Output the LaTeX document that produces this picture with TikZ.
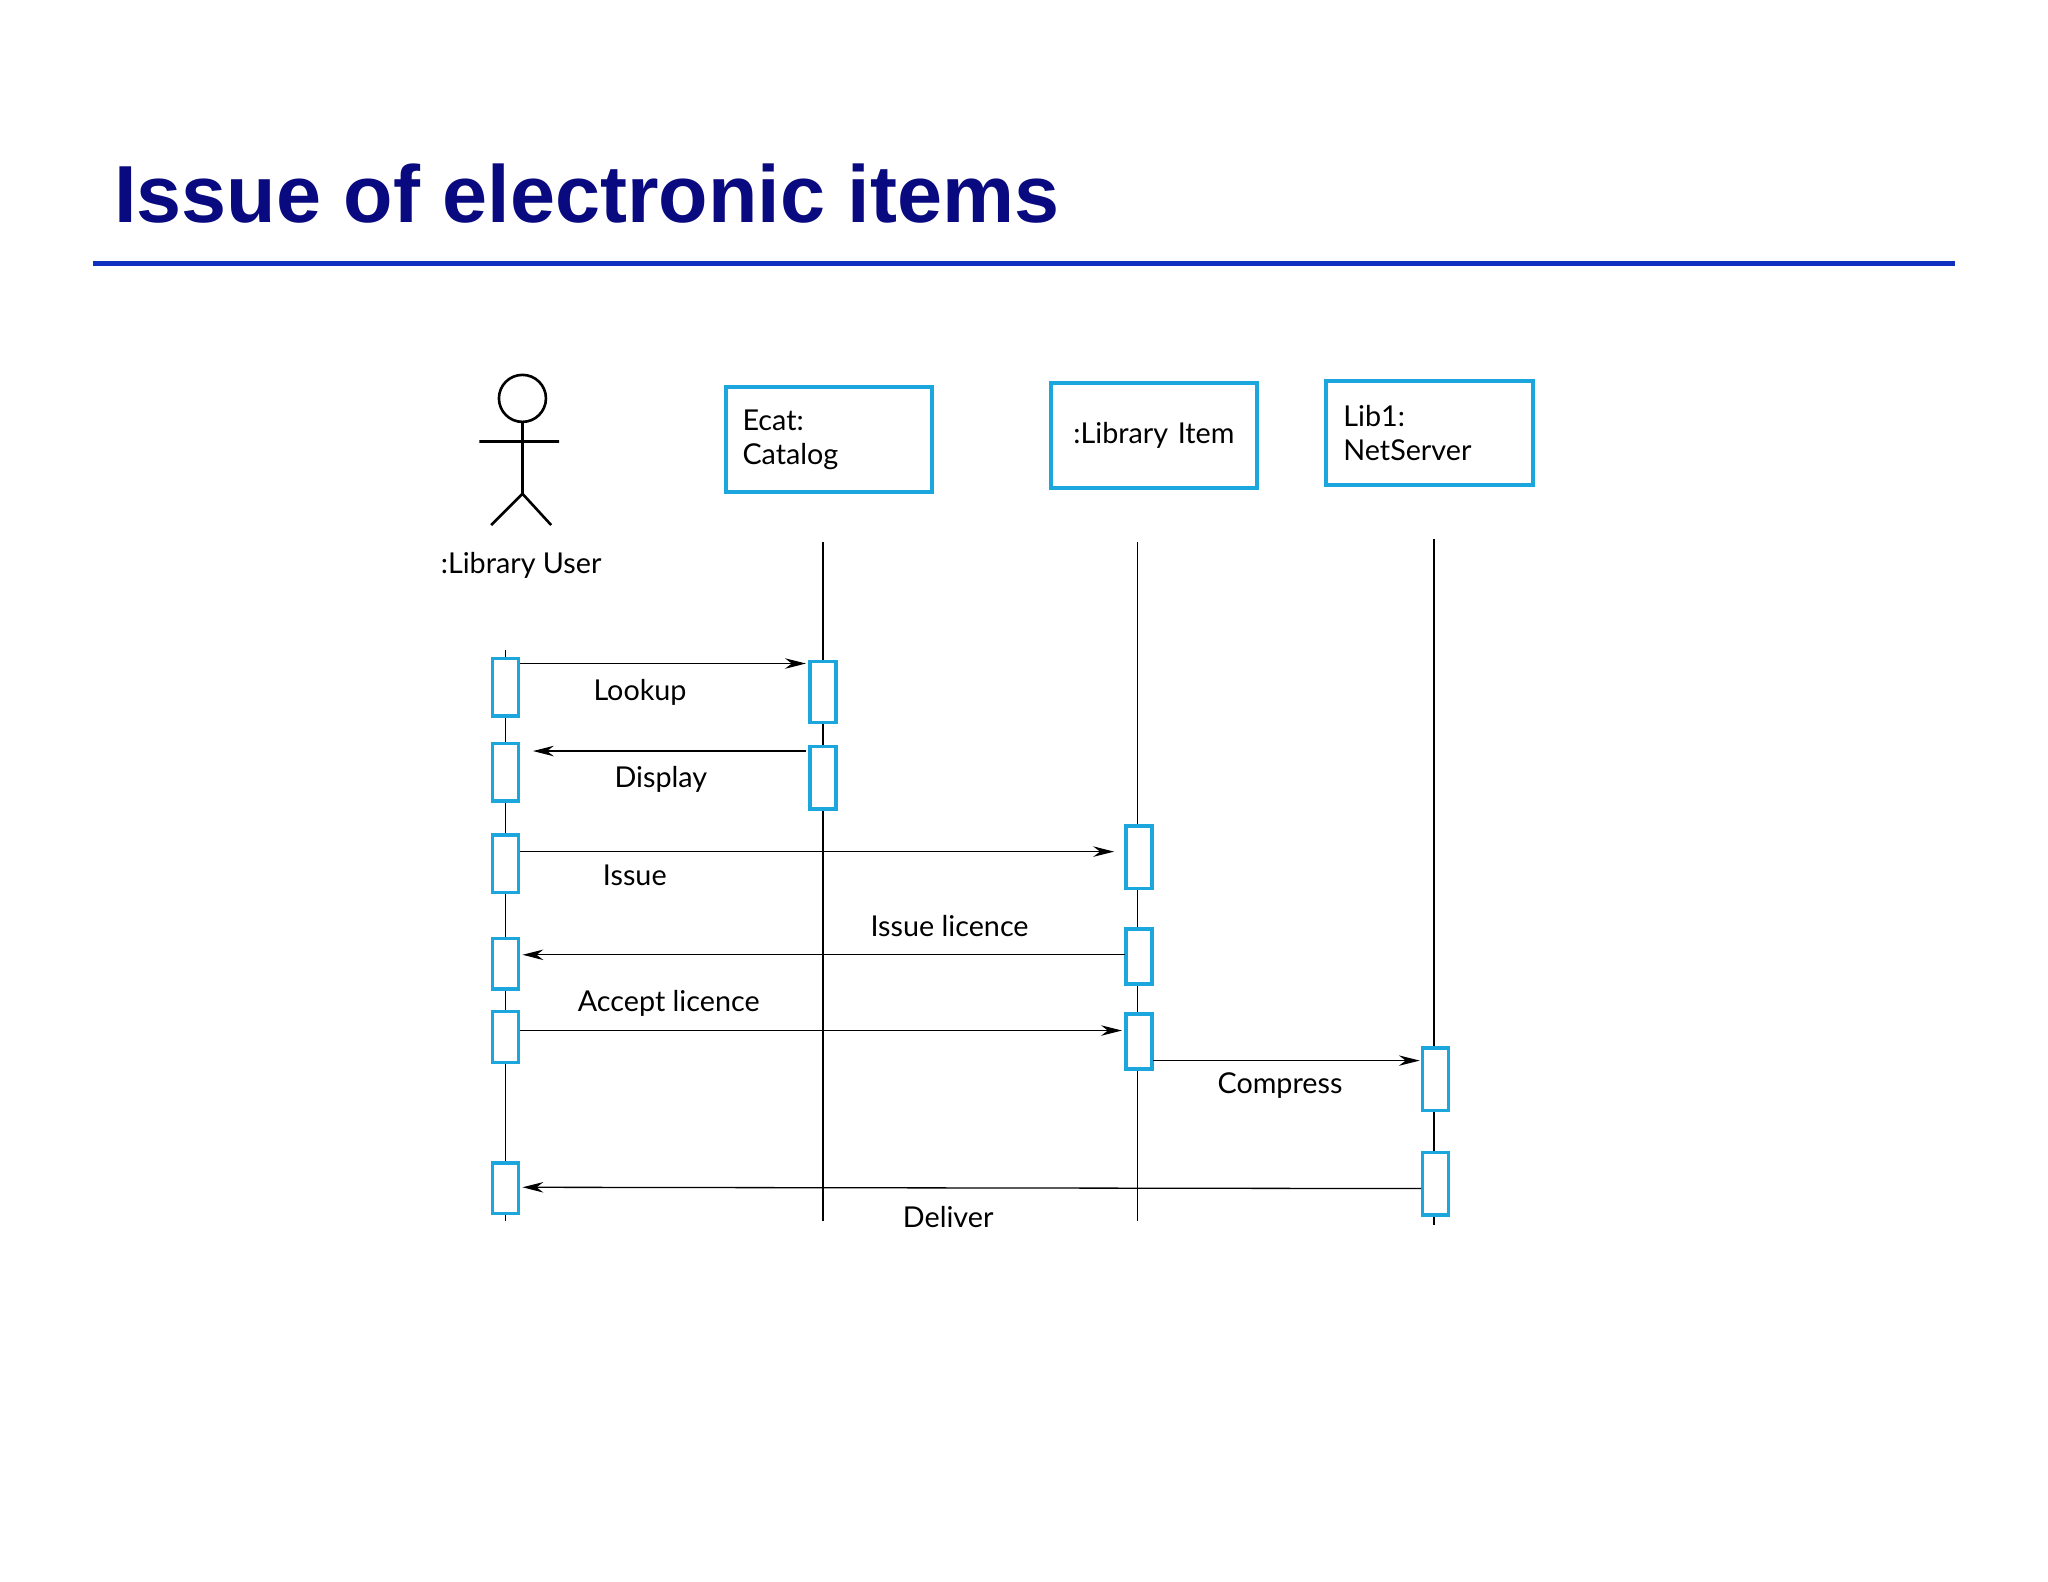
\documentclass[tikz,border=0pt]{standalone}
\usepackage{fontspec}
\setmainfont{Lato}
\newfontfamily\titlefont{Liberation Sans}
\usetikzlibrary{arrows.meta}
\definecolor{cy}{HTML}{1BA6DD}
\definecolor{navy}{HTML}{0A0A80}
\definecolor{rule}{HTML}{1030C0}
\begin{document}
\begin{tikzpicture}[x=0.5pt,y=-0.5pt,
  obj/.style={draw=cy,line width=1.5pt,minimum width=79pt,minimum height=40pt,anchor=north west,align=left,text width=66pt,font=\fontsize{11}{13}\selectfont,inner sep=0pt},
  act/.style={draw=cy,fill=white,line width=1.3pt,minimum width=10pt,anchor=north,inner sep=0pt},
  life/.style={line width=0.5pt},
  msg/.style={line width=0.5pt,-{Stealth[length=8pt,width=4pt]}},
  lbl/.style={font=\fontsize{11}{13}\selectfont}]
\useasboundingbox (0,0) rectangle (1568,1211);
\node[anchor=base west,font=\titlefont\bfseries\fontsize{31}{36}\selectfont,text=navy,inner sep=0pt] (title) at (87,170) {Issue of electronic items};
\draw[rule,line width=2pt] (71,202) -- (1497,202);
% actor
\draw[line width=1pt] (400,305) circle (18) (400,323) -- (400,378) (367,338) -- (428,338) (376,402) -- (400,378) -- (422,402);
\node[lbl] (ulab) at (399,433) {:Library User};
\node[obj] (cat) at (554,295) {Ecat:\\Catalog};
\node[obj,align=center] (item) at (803,292) {:Library Item};
\node[obj] (srv) at (1014,290) {Lib1:\\NetServer};
% lifelines
\draw[life] (387,498) -- (387,935);
\draw[life] (630,415) -- (630,935);
\draw[life] (871,415) -- (871,935);
\draw[life] (1098,413) -- (1098,938);
% activations
\foreach \n/\x/\a/\b in {u1/387/503/547,u2/387/568/612,u3/387/638/682,u4/387/717/756,u5/387/773/812,u6/387/889/928,
  c1/630/505/552,c2/630/570/618,i1/872/631/679,i2/872/710/752,i3/872/775/817,s1/1099/801/849,s2/1099/881/929}
  \node[act,minimum height={(\b-\a)*0.5pt}] (\n) at (\x,\a) {};
% messages
\draw[msg] (398,508) -- (617,508);
\node[lbl] (m1) at (490,530) {Lookup};
\draw[msg] (617,575) -- (408,575);
\node[lbl] (m2) at (506,597) {Display};
\draw[msg] (398,652) -- (853,652);
\node[lbl] (m3) at (486,670) {Issue};
\draw[msg] (861,731) -- (400,731);
\node[lbl] (m4) at (727,709) {Issue licence};
\draw[msg] (398,789) -- (859,789);
\node[lbl] (m5) at (512,768) {Accept licence};
\draw[msg] (883,812) -- (1087,812);
\node[lbl] (m6) at (980,831) {Compress};
\draw[msg] (1088,910) -- (400,909);
\node[lbl] (m7) at (726,932) {Deliver};
\end{tikzpicture}
\end{document}
